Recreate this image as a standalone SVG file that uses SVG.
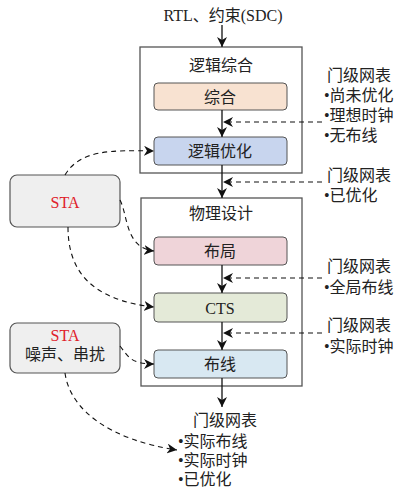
<svg xmlns="http://www.w3.org/2000/svg" width="412" height="492" viewBox="0 0 412 492">
<defs>
<marker id="ah" viewBox="0 0 10 10" refX="10" refY="5" markerWidth="10" markerHeight="10" markerUnits="userSpaceOnUse" orient="auto">
<path d="M0,0 L10,5 L0,10 L3,5 Z" fill="#111"/>
</marker>
</defs>
<style>
text{font-family:"Liberation Serif","Noto Sans CJK SC",serif;font-size:16px;fill:#222;}
.c{text-anchor:middle;dominant-baseline:central;}
.l{dominant-baseline:central;}
.frame{fill:#fff;stroke:#555;stroke-width:1.3;}
.node{stroke:#555;stroke-width:1;}
.sta{fill:#efefef;stroke:#555;stroke-width:1.2;}
.red{fill:#e0202a;}
.solid{fill:none;stroke:#111;stroke-width:1.3;marker-end:url(#ah);}
.dash{fill:none;stroke:#111;stroke-width:1.1;stroke-dasharray:5,4;marker-end:url(#ah);}
</style>
<rect width="412" height="492" fill="#fff"/>
<text class="c" x="223" y="15">RTL、约束(SDC)</text>
<g id="logic">
<rect class="frame" x="140" y="47" width="162" height="126"/>
<text class="c" x="221" y="65">逻辑综合</text>
</g>
<g id="synth">
<rect class="node" x="154" y="83" width="133" height="27" rx="4" fill="#f8e2d1"/>
<text class="c" x="220" y="97">综合</text>
</g>
<g id="logicopt">
<rect class="node" x="154" y="137" width="133" height="28" rx="4" fill="#c8d5ee"/>
<text class="c" x="220" y="151">逻辑优化</text>
</g>
<g id="phys">
<rect class="frame" x="141" y="198" width="161" height="188"/>
<text class="c" x="221" y="213">物理设计</text>
</g>
<g id="place">
<rect class="node" x="154" y="237" width="133" height="28" rx="4" fill="#efd4d9"/>
<text class="c" x="220" y="251">布局</text>
</g>
<g id="cts">
<rect class="node" x="154" y="293" width="133" height="29" rx="4" fill="#e4ead8"/>
<text class="c" x="220" y="308">CTS</text>
</g>
<g id="route">
<rect class="node" x="154" y="350" width="133" height="28" rx="4" fill="#d8e8f2"/>
<text class="c" x="220" y="364">布线</text>
</g>
<g id="sta1">
<rect class="sta" x="10" y="175" width="110" height="52" rx="7"/>
<text class="c red" x="65" y="202">STA</text>
</g>
<g id="sta2">
<rect class="sta" x="10" y="323" width="110" height="50" rx="7"/>
<text class="c red" x="65" y="335">STA</text>
<text class="c" x="65" y="354">噪声、串扰</text>
</g>
<g id="labels">
<text class="l" x="327" y="75">门级网表</text>
<text class="l" x="324" y="95">•尚未优化</text>
<text class="l" x="324" y="115">•理想时钟</text>
<text class="l" x="324" y="135">•无布线</text>
<text class="l" x="327" y="175">门级网表</text>
<text class="l" x="324" y="195">•已优化</text>
<text class="l" x="327" y="266">门级网表</text>
<text class="l" x="324" y="287">•全局布线</text>
<text class="l" x="327" y="325">门级网表</text>
<text class="l" x="324" y="346">•实际时钟</text>
<text class="l" x="193" y="420">门级网表</text>
<text class="l" x="178" y="441">•实际布线</text>
<text class="l" x="178" y="460">•实际时钟</text>
<text class="l" x="178" y="479">•已优化</text>
</g>
<g id="connectors">
<path class="solid" d="M222,25 V47"/>
<path class="solid" d="M222,110 V137"/>
<path class="solid" d="M222,165 V198"/>
<path class="solid" d="M222,265 V293"/>
<path class="solid" d="M222,322 V350"/>
<path class="solid" d="M222,378 V407"/>
<path class="dash" d="M322,122 H223"/>
<path class="dash" d="M322,182 H223"/>
<path class="dash" d="M322,278 H223"/>
<path class="dash" d="M322,333 H223"/>
<path class="dash" d="M65,175 C80,150 110,150 154,151"/>
<path class="dash" d="M120,200 C128,215 125,248 154,251"/>
<path class="dash" d="M68,227 C68,270 90,300 154,307"/>
<path class="dash" d="M120,346 C128,356 130,364 154,364"/>
<path class="dash" d="M65,373 C70,410 110,440 177,450"/>
</g>
</svg>
